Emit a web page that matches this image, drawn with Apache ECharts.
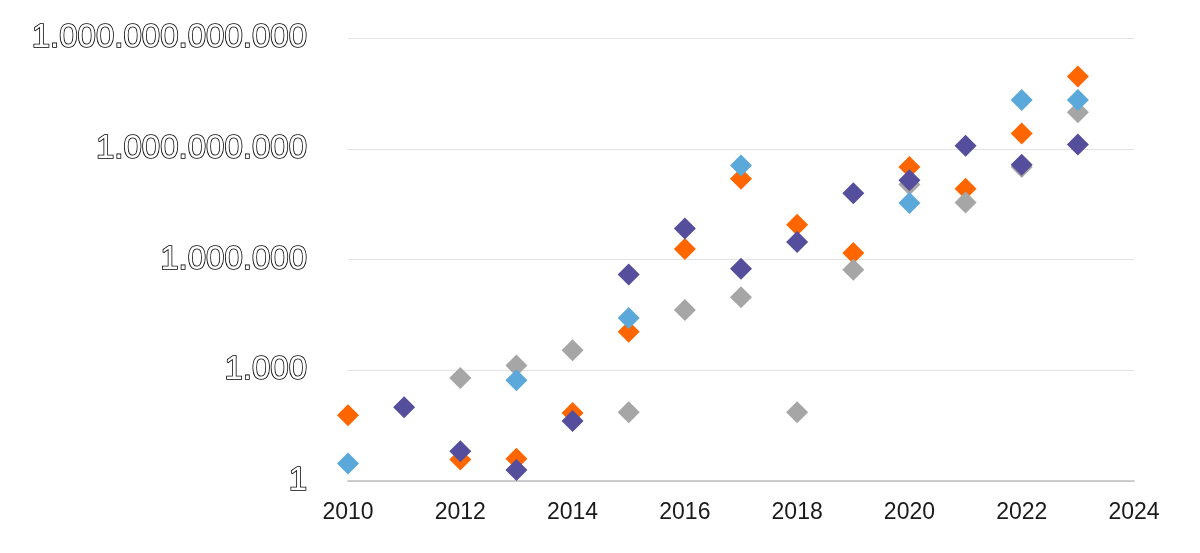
<!DOCTYPE html>
<html>
<head>
<meta charset="utf-8">
<script src="https://cdn.jsdelivr.net/npm/echarts@6/dist/echarts.min.js"></script>
<style>
  html, body { margin: 0; padding: 0; background: #fff; }
  #chart { width: 1200px; height: 553px; }
</style>
</head>
<body>
<div id="chart"></div>
<script>
// values (log scale)
const orangeYears = [2010, 2012, 2013, 2014, 2015, 2016, 2017, 2018, 2019, 2020, 2021, 2022, 2023];
const orangeValues = [60, 3.8, 4, 70, 11000, 1.94e6, 1.55e8, 8.7e6, 1.5e6, 3.2e8, 8.2e7, 2.6e9, 9.1e10];

const greyYears = [2012, 2013, 2014, 2015, 2016, 2017, 2018, 2019, 2020, 2021, 2022, 2023];
const greyValues = [620, 1340, 3500, 73, 43000, 95000, 73, 5.3e5, 1.07e8, 3.5e7, 3.2e8, 9.7e9];

const blueYears = [2010, 2013, 2015, 2017, 2020, 2022, 2023];
const blueValues = [3, 540, 26000, 3.5e8, 3.4e7, 2.1e10, 2.1e10];

const purpleYears = [2011, 2012, 2013, 2014, 2015, 2016, 2017, 2018, 2019, 2020, 2021, 2022, 2023];
const purpleValues = [100, 6.4, 2, 42, 3.9e5, 6.9e6, 5.6e5, 3e6, 6.2e7, 1.4e8, 1.2e9, 3.7e8, 1.3e9];

const yTicks = [1, 1e3, 1e6, 1e9, 1e12];

function pairs(xs, ys) {
  return xs.map((x, i) => [x, ys[i]]);
}

function dotted(v) {
  return String(Math.round(v)).replace(/\B(?=(\d{3})+(?!\d))/g, ".");
}

function diamonds(name, color, xs, ys) {
  return {
    name,
    type: "scatter",
    symbol: "diamond",
    symbolSize: 22,
    itemStyle: { color, opacity: 1 },
    data: pairs(xs, ys),
  };
}

const chart = echarts.init(document.getElementById("chart"));
chart.setOption({
  animation: false,
  grid: { left: 348, right: 66, top: 38, bottom: 72 },
  xAxis: {
    type: "value",
    min: 2010,
    max: 2024,
    interval: 2,
    axisLine: { show: true, lineStyle: { color: "#bfbfbf", width: 1.5 } },
    axisTick: { show: false },
    splitLine: { show: false },
    axisLabel: {
      margin: 20,
      color: "#1a1a1a",
      fontFamily: "Liberation Sans",
      fontSize: 23,
      formatter: (v) => String(v),
    },
  },
  yAxis: {
    type: "log",
    logBase: 1000,
    min: yTicks[0],
    max: yTicks[yTicks.length - 1],
    axisLine: { show: false },
    axisTick: { show: false },
    splitLine: { show: true, lineStyle: { color: "#e3e3e3", width: 1 } },
    axisLabel: {
      margin: 41,
      color: "#ffffff",
      textBorderColor: "#000000",
      textBorderWidth: 1.6,
      fontFamily: "Liberation Sans",
      fontSize: 33,
      formatter: dotted,
    },
  },
  series: [
    diamonds("orange", "#ff6600", orangeYears, orangeValues),
    diamonds("grey", "#a6a6a6", greyYears, greyValues),
    diamonds("blue", "#5ba8da", blueYears, blueValues),
    diamonds("purple", "#544e9c", purpleYears, purpleValues),
  ],
});
</script>
</body>
</html>
